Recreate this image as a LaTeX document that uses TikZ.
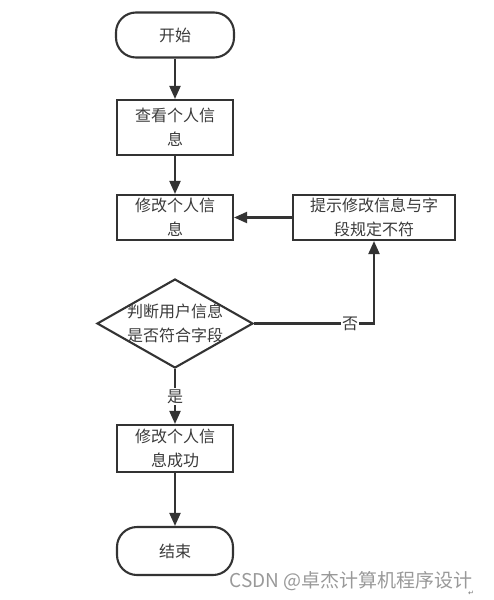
\documentclass[tikz,border=0pt]{standalone}
\usepackage{fontspec}
\newfontfamily\cjk{Noto Sans CJK SC}
\newfontfamily\symf{DejaVu Sans}
\usetikzlibrary{arrows.meta,shapes.geometric}
\definecolor{ln}{HTML}{333333}
\definecolor{tx}{HTML}{3A3A3A}
\begin{document}
\begin{tikzpicture}[x=1pt,y=-1pt,
  every node/.style={font=\cjk\fontsize{16}{23.5}\selectfont, text=tx},
  term/.style={draw=ln, line width=2.1pt, rounded corners=20pt, minimum width=118pt, minimum height=45pt},
  proc/.style={draw=ln, line width=2.1pt, minimum width=116pt, align=center, inner sep=0pt},
  dec/.style={draw=ln, line width=2.1pt, diamond, minimum width=156pt, minimum height=89pt, inner sep=0pt},
  arr/.style={draw=ln, line width=2.1pt, -{Triangle[length=13pt,width=11pt]}},
  lbl/.style={fill=white, inner sep=1pt},
]
\useasboundingbox (0,0) rectangle (494,600);
\node[term] (start) at (175,35) {开始};
\node[proc, minimum height=55pt] (view) at (175,127.5) {查看个人信\\息};
\node[proc, minimum height=45pt] (edit) at (175,217.5) {修改个人信\\息};
\node[proc, minimum width=162pt, minimum height=45pt] (tip) at (374,217.5) {提示修改信息与字\\段规定不符};
\node[dec] (judge) at (175,323.5) {};
\node[align=center] (judgetxt) at (judge.center) {判断用户信息\\是否符合字段};
\node[proc, minimum height=47pt] (ok) at (175,448.5) {修改个人信\\息成功};
\node[term, minimum width=116pt, minimum height=48pt] (end) at (175,551) {结束};
\draw[arr] (start) -- (view);
\draw[arr] (view) -- (edit);
\draw[arr] (judge.south) -- node[lbl, pos=0.5] {是} (ok.north);
\draw[arr] (ok) -- (end);
\draw[arr] (judge.east) -| node[lbl, pos=0.4] {否} (tip.south);
\draw[arr] (tip.west) -- (edit.east);
\node[font=\cjk\fontsize{19}{22}\selectfont, text=black!40, anchor=west] (wm) at (226,581) {CSDN @卓杰计算机程序设计};
\node[font=\symf\fontsize{7}{8}\selectfont, text=black!55, inner sep=0pt] (ret) at (471,593) {↵};
\end{tikzpicture}
\end{document}
